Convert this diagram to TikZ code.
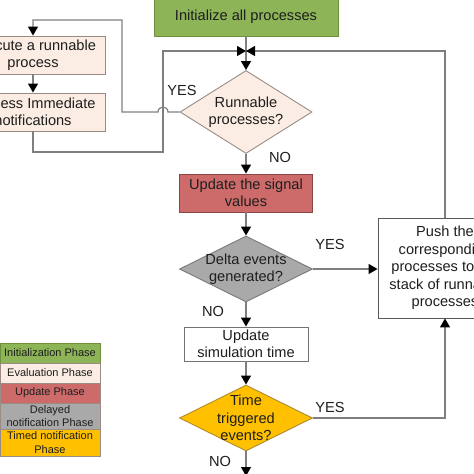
\documentclass[tikz,border=0pt]{standalone}
\usepackage{fontspec}
\setmainfont{Liberation Sans}
\usetikzlibrary{shapes.geometric,arrows.meta}
\definecolor{initG}{HTML}{8DB457}
\definecolor{initB}{HTML}{6E8F3E}
\definecolor{evalF}{HTML}{FBEDE3}
\definecolor{evalB}{HTML}{9A8C84}
\definecolor{updF}{HTML}{CD6B6B}
\definecolor{updB}{HTML}{8A4545}
\definecolor{delF}{HTML}{A9A9A9}
\definecolor{delB}{HTML}{7A7A7A}
\definecolor{timF}{HTML}{FFC000}
\definecolor{timB}{HTML}{B08A2E}
\definecolor{lineC}{HTML}{7F7F7F}
\definecolor{txtC}{HTML}{1E1E1E}
\begin{document}
\begin{tikzpicture}[x=1pt,y=-1pt,
 every node/.style={font=\fontsize{14.6}{17.5}\selectfont, text=txtC, align=center, inner sep=0pt},
 box/.style={rectangle, draw, line width=0.9pt},
 dia/.style={diamond, draw, line width=0.9pt},
 conn/.style={draw=lineC, line width=1.2pt},
 arr/.style={conn, -{Triangle[width=10pt,length=9pt,color=black]}},
 leg/.style={rectangle, draw=evalB, line width=0.8pt, minimum width=100pt, font=\fontsize{11}{13.5}\selectfont}
]
\useasboundingbox (0,0) rectangle (474,474);
\clip (0,0) rectangle (474,474);

% main flow
\node[box, fill=initG, draw=initB, minimum width=184pt, minimum height=38pt] (init) at (246,17) {Initialize all processes};
\node[box, fill=evalF, draw=evalB, minimum width=144pt, minimum height=38pt] (exec) at (33,55) {Execute a runnable\\process};
\node[box, fill=evalF, draw=evalB, minimum width=144pt, minimum height=38pt] (proc) at (33,112) {Process Immediate\\notifications};
\node[dia, fill=evalF, draw=evalB, minimum width=132pt, minimum height=83pt,
      label={[align=center]center:Runnable\\processes?}] (run) at (246,112) {};
\node[box, fill=updF, draw=updB, minimum width=133pt, minimum height=38pt] (upd) at (246,193) {Update the signal\\values};
\node[dia, fill=delF, draw=delB, minimum width=133pt, minimum height=66pt,
      label={[align=center]center:Delta events\\generated?}] (delta) at (246,269) {};
\node[box, fill=white, draw=black!65, minimum width=134pt, minimum height=100pt] (push) at (445,268) {Push the\\corresponding\\processes to the\\stack of runnable\\processes};
\node[box, fill=white, draw=black!55, minimum width=124pt, minimum height=34pt] (sim) at (246,344) {Update\\simulation time};
\node[dia, fill=timF, draw=timB, minimum width=133pt, minimum height=66pt,
      label={[align=center]center:Time\\triggered\\events?}] (time) at (246,418) {};

\coordinate (j) at (246,51);
\coordinate (endp) at (246,476);

% connectors
\draw[conn] (init.south) -- (j);
\draw[arr] (j) -- (run.north);
\draw[arr] (proc.south) -- (33,152) -- (163,152) -- (163,51) -- (j);
\draw[arr] (push.north) -- (445,51) -- (j);
\draw[arr] (run.west) -- (168,112) .. controls (168,105.5) and (158,105.5) .. (158,112) -- (122,112) -- (122,20) -| (exec.north);
\draw[arr] (exec.south) -- (proc.north);
\draw[arr] (run.south) -- (upd.north);
\draw[arr] (upd.south) -- (delta.north);
\draw[arr] (delta.east) -- (delta.east -| push.west);
\draw[arr] (delta.south) -- (sim.north);
\draw[arr] (sim.south) -- (time.north);
\draw[arr] (time.east) -| (push.south);
\draw[arr] (time.south) -- (endp);

% labels
\node (yes1) at (182,90) {YES};
\node (no1) at (280,157) {NO};
\node (yes2) at (330,244) {YES};
\node (no2) at (213,311) {NO};
\node (yes3) at (330,407) {YES};
\node (no3) at (220,461) {NO};

% legend
\node[leg, fill=initG, draw=initB, minimum height=20pt] (l1) at (50,353) {Initialization Phase};
\node[leg, fill=evalF, minimum height=20pt] (l2) at (50,373) {Evaluation Phase};
\node[leg, fill=updF, minimum height=20pt] (l3) at (50,393) {Update Phase};
\node[leg, fill=delF, minimum height=26pt] (l4) at (50,416) {Delayed\\notification Phase};
\node[leg, fill=timF, minimum height=27pt] (l5) at (50,442.5) {Timed notification\\Phase};
\end{tikzpicture}
\end{document}
